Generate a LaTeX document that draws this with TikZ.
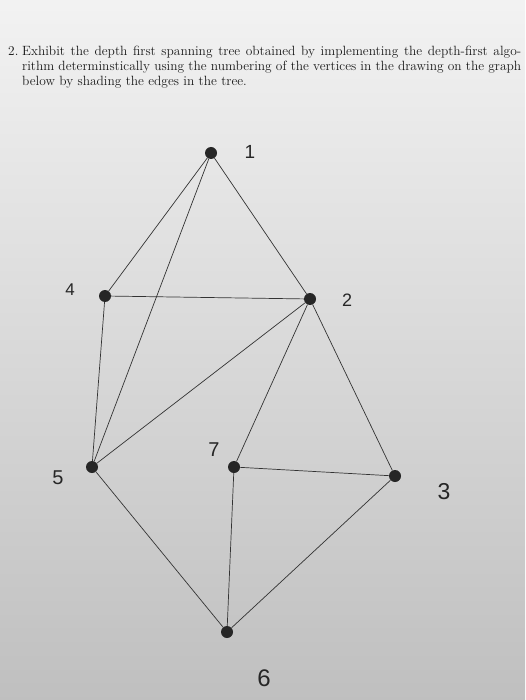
\documentclass[tikz,border=0pt]{standalone}
\usepackage{fontspec}
\newfontfamily\labfont{Liberation Sans}
\begin{document}
\begin{tikzpicture}[x=1pt,y=-1pt,
  vtx/.style={circle,fill=black!85,inner sep=0pt,minimum size=12pt},
  edge/.style={draw=black!80,line width=0.7pt},
  lab/.style={font=\labfont\fontsize{19}{19}\selectfont,text=black!85,inner sep=0pt},
  qtext/.style={inner sep=0pt,text=black!90,font=\fontsize{13.4}{15}\selectfont}]
\useasboundingbox (0,0) rectangle (525,700);
\shade[top color=gray!10,bottom color=gray!50] (0,0) rectangle (525,700);
% question text
\node[qtext,anchor=base west] (qn) at (8,55.5) {2.};
\node[qtext,anchor=north west,text width=499pt,align=justify] (q) at (22,45.5)
  {Exhibit the depth first spanning tree obtained by implementing the depth-first algo-\linebreak rithm determinstically using the numbering of the vertices in the drawing on the graph\linebreak below by shading the edges in the tree.};
% vertices
\node[vtx] (v1) at (211,153) {};
\node[vtx] (v4) at (105,296) {};
\node[vtx] (v2) at (310,299) {};
\node[vtx] (v5) at (92,467) {};
\node[vtx] (v7) at (234,467) {};
\node[vtx] (v3) at (395,476) {};
\node[vtx] (v6) at (227,632) {};
% labels
\node[lab] (l1) at (250,152) {1};
\node[lab,font=\labfont\fontsize{17}{17}\selectfont] (l4) at (70,290) {4};
\node[lab,font=\labfont\fontsize{18}{18}\selectfont] (l2) at (347,300) {2};
\node[lab,font=\labfont\fontsize{20}{20}\selectfont] (l5) at (58,478) {5};
\node[lab,font=\labfont\fontsize{20}{20}\selectfont] (l7) at (214,450) {7};
\node[lab,font=\labfont\fontsize{23}{23}\selectfont] (l3) at (444,492) {3};
\node[lab,font=\labfont\fontsize{24}{24}\selectfont] (l6) at (264,678) {6};
% edges
\draw[edge] (v1) -- (v4);
\draw[edge] (v1) -- (v5);
\draw[edge] (v1) -- (v2);
\draw[edge] (v4) -- (v2);
\draw[edge] (v4) -- (v5);
\draw[edge] (v2) -- (v5);
\draw[edge] (v2) -- (v7);
\draw[edge] (v2) -- (v3);
\draw[edge] (v7) -- (v3);
\draw[edge] (v7) -- (v6);
\draw[edge] (v5) -- (v6);
\draw[edge] (v3) -- (v6);
\end{tikzpicture}
\end{document}
